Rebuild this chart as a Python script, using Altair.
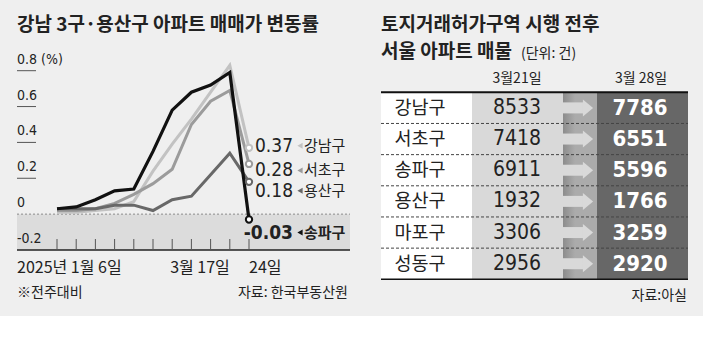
import altair as alt
import pandas as pd

# ---------------- data ----------------
week_idx = list(range(11))
gangnam = [0.01, 0.01, 0.02, 0.03, 0.07, 0.24, 0.39, 0.53, 0.68, 0.83, 0.37]
seocho = [0.02, 0.02, 0.03, 0.06, 0.11, 0.17, 0.25, 0.50, 0.63, 0.69, 0.28]
yongsan = [0.03, 0.03, 0.03, 0.05, 0.05, 0.02, 0.08, 0.10, 0.22, 0.34, 0.18]
songpa = [0.03, 0.04, 0.08, 0.13, 0.14, 0.35, 0.58, 0.68, 0.72, 0.79, -0.03]
series_names = ["강남구", "서초구", "용산구", "송파구"]
x_tick_text = ["2025년 1월 6일", "3월 17일", "24일"]
x_tick_at = [0, 9, 10]
y_tick_vals = [0.8, 0.6, 0.4, 0.2, 0, -0.2]
y_tick_text = ["0.8 (%)", "0.6", "0.4", "0.2", "0", "-0.2"]

districts = ["강남구", "서초구", "송파구", "용산구", "마포구", "성동구"]
listings_0321 = [8533, 7418, 6911, 1932, 3306, 2956]
listings_0328 = [7786, 6551, 5596, 1766, 3259, 2920]

# ---------------- style ----------------
KR = "Noto Sans CJK KR"
NUM = "Liberation Sans Narrow, DejaVu Sans Condensed, Noto Sans CJK KR"
TXT = "#222222"
BG = "#efefef"

xs = alt.Scale(domain=[0, 10], range=[57, 249])
ys = alt.Scale(domain=[-0.2, 0.8], range=[250, 70.7])
one = pd.DataFrame({"a": [0]})


def txt(text, x, y, size, bold=False, align="left", font=KR, color=TXT, **kw):
    return alt.Chart(one).mark_text(
        text=text, align=align, baseline="middle", font=font, fontSize=size,
        fontWeight="bold" if bold else "normal", color=color, **kw
    ).encode(x=alt.value(x), y=alt.value(y))


bg = alt.Chart(one).mark_rect(color=BG).encode(
    x=alt.value(0), x2=alt.value(703), y=alt.value(0), y2=alt.value(316))

# ---------------- left chart ----------------
neg = alt.Chart(pd.DataFrame({"lo": [-0.2], "hi": [0.0]})).mark_rect(color="#dcdcdc").encode(
    x=alt.value(17), x2=alt.value(350),
    y=alt.Y("lo:Q", scale=ys, axis=None), y2="hi:Q")
zero = alt.Chart(pd.DataFrame({"v": [0.0]})).mark_rule(
    color="#8a8a8a", strokeDash=[2, 2], strokeWidth=1).encode(
    x=alt.value(17), x2=alt.value(350), y=alt.Y("v:Q", scale=ys, axis=None))
base = alt.Chart(pd.DataFrame({"v": [-0.2]})).mark_rule(
    color="#222", strokeWidth=1.5).encode(
    x=alt.value(17), x2=alt.value(350), y=alt.Y("v:Q", scale=ys, axis=None))
ticks = alt.Chart(pd.DataFrame({"i": week_idx})).mark_rule(
    color="#555", strokeWidth=1).encode(
    x=alt.X("i:Q", scale=xs, axis=None), y=alt.value(239), y2=alt.value(250))
ylab_df = pd.DataFrame({"v": y_tick_vals, "t": y_tick_text})
ylabs = alt.Chart(ylab_df).mark_text(
    align="left", baseline="middle", dy=-11, font=NUM, fontSize=14, color=TXT).encode(
    x=alt.value(17), y=alt.Y("v:Q", scale=ys, axis=None), text="t:N")
yunder = alt.Chart(ylab_df[ylab_df.v > 0]).mark_rule(color="#555", strokeWidth=1).encode(
    x=alt.value(17), x2=alt.value(36), y=alt.Y("v:Q", scale=ys, axis=None))

series_vals = [gangnam, seocho, yongsan, songpa]
series_colors = ["#c2c2c2", "#9b9b9b", "#686868", "#111111"]
label_dy = [-2, 6.5, 9, 13]
left_layers = [neg, zero, base, ticks, ylabs, yunder]
for name, vals, col, dy in zip(series_names, series_vals, series_colors, label_dy):
    df = pd.DataFrame({"i": week_idx, "v": vals})
    left_layers.append(alt.Chart(df).mark_line(
        color=col, strokeWidth=3.2 if name == "송파구" else 3).encode(
        x=alt.X("i:Q", scale=xs, axis=None), y=alt.Y("v:Q", scale=ys, axis=None)))
for name, vals, col, dy in zip(series_names, series_vals, series_colors, label_dy):
    bold = name == "송파구"
    end = pd.DataFrame({"i": [week_idx[-1]], "v": [vals[-1]],
                        "t": [f"{vals[-1]:.2f}"], "n": [name]})
    enc = dict(x=alt.X("i:Q", scale=xs, axis=None), y=alt.Y("v:Q", scale=ys, axis=None))
    left_layers.append(alt.Chart(end).mark_point(
        shape="circle", size=40, filled=True, fill="white", stroke=col,
        strokeWidth=2, opacity=1).encode(**enc))
    left_layers.append(alt.Chart(end).mark_text(
        align="right", baseline="middle", dx=44, dy=dy, font=NUM, fontSize=19,
        fontWeight="bold" if bold else "normal", color=TXT).encode(text="t:N", **enc))
    left_layers.append(alt.Chart(end).mark_point(
        shape="triangle-left", size=36, filled=True, color=col, opacity=1,
        xOffset=51, yOffset=dy).encode(**enc))
    left_layers.append(alt.Chart(end).mark_text(
        align="left", baseline="middle", dx=55, dy=dy, font=KR, fontSize=15,
        fontWeight="bold" if bold else "normal",
        color=TXT).encode(text="n:N", **enc))

xl = pd.DataFrame({"i": x_tick_at, "t": x_tick_text})
for k, (al, dx) in enumerate([("left", -40), ("right", 0), ("left", 0)]):
    left_layers.append(alt.Chart(xl.iloc[[k]]).mark_text(
        align=al, baseline="middle", dx=dx, font=KR, fontSize=16,
        color=TXT).encode(x=alt.X("i:Q", scale=xs, axis=None), y=alt.value(268), text="t:N"))

left_layers += [
    txt("강남 3구·용산구 아파트 매매가 변동률", 17, 25, 19, bold=True),
    txt("※전주대비", 17, 293, 14),
    txt("자료: 한국부동산원", 348, 293, 14, align="right"),
]
left = alt.layer(*left_layers)

# ---------------- right table ----------------
bs = alt.Scale(domain=districts, range=[92.3, 279.3], paddingInner=0, paddingOuter=0)
tdf = pd.DataFrame({"d": districts, "a": listings_0321, "b": listings_0328})
tbase = alt.Chart(tdf)
Yb = alt.Y("d:N", scale=bs, axis=None, sort=None)


def col_rect(x0, x1, color):
    return alt.Chart(one).mark_rect(color=color).encode(
        x=alt.value(x0), x2=alt.value(x1), y=alt.value(92.3), y2=alt.value(279.3))


grad = alt.Gradient(gradient="linear", x1=0, x2=1, y1=0, y2=0, stops=[
    alt.GradientStop(color="#8c8c8c", offset=0), alt.GradientStop(color="#ababab", offset=1)])
right_layers = [
    col_rect(381, 472, "white"),
    col_rect(472, 563, "#d9d9d9"),
    col_rect(563, 597, "#ababab"),
    alt.Chart(one).mark_rect(color=grad).encode(
        x=alt.value(563), x2=alt.value(575), y=alt.value(92.3), y2=alt.value(279.3)),
    col_rect(597, 688, "#676767"),
    tbase.mark_rule(color="#d9d9d9", strokeWidth=11, strokeCap="butt").encode(
        x=alt.value(563), x2=alt.value(584), y=Yb),
    tbase.mark_point(shape="M-0.6,-1L0.6,0L-0.6,1Z", size=289, filled=True,
                     color="#d9d9d9", opacity=1, strokeWidth=0).encode(
        x=alt.value(588), y=Yb),
    alt.Chart(tdf.iloc[1:]).mark_rule(color="#444", strokeDash=[3, 2], strokeWidth=1).encode(
        x=alt.value(381), x2=alt.value(688),
        y=alt.Y("d:N", scale=bs, axis=None, sort=None, bandPosition=0)),
    alt.Chart(one).mark_rule(color="#111", strokeWidth=2).encode(
        x=alt.value(381), x2=alt.value(688), y=alt.value(92.3)),
    alt.Chart(one).mark_rule(color="#111", strokeWidth=1.5).encode(
        x=alt.value(381), x2=alt.value(688), y=alt.value(279.3)),
    tbase.mark_text(align="center", baseline="middle", font=KR, fontSize=18.5,
                    color=TXT).encode(x=alt.value(420), y=Yb, text="d:N"),
    tbase.mark_text(align="center", baseline="middle", font=NUM, fontSize=21,
                    color=TXT).encode(x=alt.value(517), y=Yb, text="a:N"),
    tbase.mark_text(align="center", baseline="middle", font=NUM, fontSize=22,
                    fontWeight="bold", color="white").encode(x=alt.value(640), y=Yb, text="b:N"),
    txt("토지거래허가구역 시행 전후", 381, 25, 19, bold=True),
    txt("서울 아파트 매물", 381, 52, 19, bold=True),
    txt("(단위: 건)", 521, 54, 14),
    txt("3월21일", 517, 79, 14, align="center"),
    txt("3월 28일", 641, 79, 14, align="center"),
    txt("자료:아실", 687, 296, 14, align="right"),
]
right = alt.layer(*right_layers)

chart = alt.layer(bg, left, right).resolve_scale(
    x="independent", y="independent"
).properties(
    width=703, height=351, padding=0, autosize="none", background="white"
).configure_view(strokeWidth=0)

chart.save("out.html", embed_options={"renderer": "svg", "actions": False})
